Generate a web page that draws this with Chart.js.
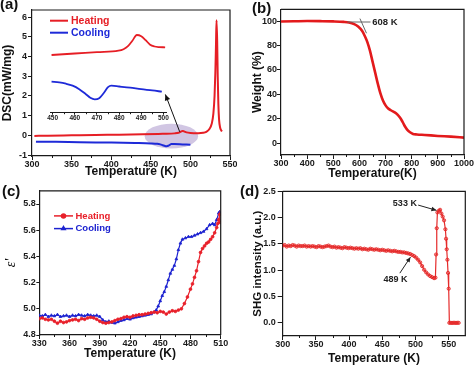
<!DOCTYPE html>
<html><head><meta charset="utf-8">
<script src="https://cdn.jsdelivr.net/npm/chart.js@4"></script>
<style>
html,body{margin:0;padding:0;background:#fff;}
body{width:474px;height:366px;overflow:hidden;position:relative;font-family:'Liberation Sans',Arial,sans-serif;}
canvas{position:absolute;}
</style></head><body>
<canvas id="ca" width="237" height="185" style="left:0;top:0"></canvas>
<canvas id="cai" width="140" height="99" style="left:40px;top:26px"></canvas>
<canvas id="cb" width="237" height="185" style="left:237px;top:0"></canvas>
<canvas id="cc" width="237" height="181" style="left:0;top:185px"></canvas>
<canvas id="cd" width="237" height="182" style="left:237px;top:184px"></canvas>
<script>
// ---------- data ----------
const seriesNames = ['Heating', 'Cooling'];
const panelNames = ['(a)', '(b)', '(c)', '(d)'];

// (a) DSC
const dscXTicks = [300,350,400,450,500,550];
const dscYTicks = [-1,0,1,2,3,4,5,6];
const dscHeatT = [303,320,350,380,410,440,465,480,485,488,490,492,495,500,510,516,520,524,527,529,530.5,531.5,532.3,533,533.8,534.5,535.3,536.2,537.5,539,540];
const dscHeatV = [-0.03,-0.02,0.0,0.02,0.03,0.05,0.08,0.10,0.13,0.19,0.22,0.20,0.15,0.12,0.11,0.13,0.18,0.32,0.60,1.10,2.00,3.20,4.60,5.85,4.80,3.00,1.60,0.80,0.40,0.25,0.20];
const dscCoolT = [305,330,360,400,430,450,458,462,465,468,470,472,474,476,480,490,500];
const dscCoolV = [-0.32,-0.33,-0.35,-0.37,-0.39,-0.41,-0.43,-0.46,-0.50,-0.54,-0.55,-0.53,-0.48,-0.44,-0.44,-0.46,-0.48];
// (a) inset (magnified, arbitrary units)
const insetXTicks = [450,460,470,480,490,500];
const insetHeatT = [449.5,460,470,479.7,482,484,486,488,490,492,494,496,498,500.8];
const insetHeatV = [57.7,59.2,60.6,62.0,63.5,66.5,72.0,77.7,76.5,72.5,68.0,66.2,65.6,65.4];
const insetCoolT = [449.5,453,456,459,462,465,467,469,471,473,475,476.5,480,485,490,495,499.3];
const insetCoolV = [31.0,30.3,29.0,27.0,23.5,18.5,15.0,13.4,14.5,19.5,25.5,27.0,26.2,25.0,23.5,22.3,21.0];

// (b) TGA
const tgaXTicks = [300,400,500,600,700,800,900,1000];
const tgaYTicks = [0,20,40,60,80,100];
const tgaT = [300,350,400,450,500,540,560,580,595,610,620,630,640,650,660,670,680,690,700,710,720,740,755,765,775,785,795,805,820,850,900,950,1000];
const tgaW = [99.6,99.8,100,99.9,99.7,99.3,98.8,97.5,95.5,92.0,88.0,83.0,76.0,67.0,58.0,49.0,41.0,35.0,31.0,28.5,27.0,24.5,21.0,17.5,13.5,10.5,8.8,7.6,7.2,6.8,6.0,5.4,4.6];

// (c) dielectric constant
const epsXTicks = [330,360,390,420,450,480,510];
const epsYTicks = [4.8,5.0,5.2,5.4,5.6,5.8];
const epsHeatT = [330,333,336,339,342,345,348,351,354,357,
 360,363,366,369,372,375,378,381,384,387,
 390,393,396,399,402,405,408,411,414,417,
 420,423,426,429,432,435,438,441,444,447,
 450,453,456,459,462,465,468,471,474,477,
 480,482,484,486,488,490,492,494,496,498,
 500,502,504,506,507,508,509,509.5];
const epsHeatV = [4.925,4.930,4.920,4.915,4.920,4.905,4.890,4.905,4.895,4.900,
 4.910,4.915,4.920,4.910,4.925,4.920,4.930,4.935,4.930,4.920,
 4.905,4.895,4.890,4.895,4.900,4.910,4.920,4.925,4.935,4.940,
 4.935,4.945,4.950,4.955,4.955,4.960,4.965,4.970,4.975,4.970,
 4.980,4.975,4.960,4.975,4.985,4.980,4.990,5.000,5.040,5.090,
 5.150,5.190,5.240,5.290,5.360,5.430,5.460,5.480,5.500,5.510,
 5.530,5.550,5.580,5.620,5.650,5.680,5.720,5.660];
const epsCoolT = [330,333,336,339,342,345,348,351,354,357,
 360,363,366,369,372,375,378,381,384,387,
 390,393,396,399,402,405,408,411,414,417,
 420,423,426,429,432,435,438,441,444,446,
 448,450,452,454,456,458,460,462,464,466,
 468,470,472,475,478,481,484,487,490,493,
 496,499,502,504,506,508,509];
const epsCoolV = [4.950,4.945,4.955,4.940,4.950,4.945,4.955,4.940,4.945,4.950,
 4.940,4.950,4.945,4.955,4.950,4.945,4.955,4.950,4.945,4.950,
 4.940,4.915,4.900,4.905,4.895,4.890,4.900,4.910,4.915,4.925,
 4.920,4.930,4.935,4.940,4.945,4.950,4.955,4.960,4.975,4.990,
 5.020,5.060,5.100,5.130,5.170,5.220,5.270,5.300,5.330,5.380,
 5.450,5.500,5.530,5.540,5.550,5.550,5.560,5.570,5.580,5.590,
 5.610,5.640,5.650,5.640,5.680,5.730,5.740];

// (d) SHG
const shgXTicks = [300,350,400,450,500,550];
const shgYTicks = [0.0,0.5,1.0,1.5,2.0,2.5];
const shgT = [300,303,306,309,312,315,318,321,324,327,
 330,333,336,339,342,345,348,351,354,357,
 360,363,366,369,372,375,378,381,384,387,
 390,393,396,399,402,405,408,411,414,417,
 420,423,426,429,432,435,438,441,444,447,
 450,453,456,459,462,465,468,471,474,477,
 480,483,486,489,492,495,498,501,504,507,
 510,513,516,519,522,525,528,530,531,532,
 533,535,537,539,541,543,545,546,547,548,
 549,550,551,553,555,557,559,561,563,565];
const shgV = [1.47,1.48,1.45,1.47,1.46,1.48,1.47,1.45,1.47,1.46,
 1.46,1.47,1.45,1.46,1.45,1.46,1.45,1.44,1.46,1.45,
 1.44,1.45,1.46,1.47,1.45,1.44,1.45,1.43,1.44,1.43,
 1.42,1.44,1.43,1.42,1.43,1.42,1.41,1.42,1.41,1.42,
 1.40,1.41,1.40,1.39,1.41,1.40,1.39,1.40,1.39,1.38,
 1.39,1.38,1.37,1.38,1.37,1.36,1.37,1.36,1.35,1.35,
 1.34,1.34,1.33,1.32,1.31,1.29,1.27,1.24,1.20,1.15,
 1.08,1.01,0.96,0.92,0.89,0.87,0.85,0.86,1.30,1.80,
 2.10,2.13,2.15,2.08,2.02,1.95,1.78,1.60,1.40,1.20,
 0.95,0.65,0.00,0.00,0.00,0.00,0.00,0.00,0.00,0.00];

// ---------- helpers ----------
const F = "'Liberation Sans', Arial, sans-serif";
const AX = '#1a1a1a';
const RED = '#e61e25', BLUE = '#1e2ad8';
const pts = (xs, ys) => xs.map((x, i) => ({x: x, y: ys[i]}));
const setTicks = list => (s => { s.ticks = list.map(v => ({value: v})); });

function xAxis(o) {
  return {
    type: 'linear', position: 'bottom', min: o.min, max: o.max,
    afterFit(s) { s.height = o.h; },
    afterBuildTicks: setTicks(o.ticks),
    ticks: {autoSkip: false, maxRotation: 0, minRotation: 0,
      padding: o.pad !== undefined ? o.pad : -1, color: '#1a1a1a',
      font: {family: F, size: o.fs || 9, weight: 'bold'},
      callback: o.fmt || (v => String(v))},
    grid: {display: true, drawOnChartArea: false, drawTicks: true, tickLength: o.tl || 4, tickColor: AX, tickWidth: 1},
    border: {display: true, color: AX, width: o.bw || 1.2},
    title: {display: !!o.title, text: o.title, color: '#111', font: {family: F, size: o.tfs || 12, weight: 'bold'},
      padding: {top: 0, bottom: o.tpb || 0}}
  };
}
function yAxis(o) {
  return {
    type: 'linear', position: 'left', min: o.min, max: o.max, display: o.display === undefined ? true : o.display,
    afterFit(s) { s.width = o.w; },
    afterBuildTicks: o.ticks ? setTicks(o.ticks) : undefined,
    ticks: {autoSkip: false,
      padding: o.pad || 0, color: '#1a1a1a',
      font: {family: F, size: o.fs || 9, weight: 'bold'},
      callback: o.fmt || (v => String(v))},
    grid: {display: true, drawOnChartArea: false, drawTicks: true, tickLength: o.tl || 4, tickColor: AX, tickWidth: 1},
    border: {display: true, color: AX, width: 1.2},
    title: {display: !!o.title, text: o.title, color: '#111',
      font: Object.assign({family: F, size: o.tfs || 12, weight: 'bold'}, o.tfont || {}),
      padding: {top: o.tpt || 0, bottom: 0}}
  };
}

const framePlugin = {
  id: 'frame',
  afterDraw(chart, args, o) {
    if (!o || !o.on) return;
    const a = chart.chartArea, c = chart.ctx;
    c.save(); c.strokeStyle = AX; c.lineWidth = 1.2;
    c.beginPath(); c.moveTo(a.left, a.top); c.lineTo(a.right, a.top); c.lineTo(a.right, a.bottom); c.stroke();
    c.restore();
  }
};
const minorPlugin = {
  id: 'minor',
  afterDraw(chart, args, o) {
    if (!o || !o.axes) return;
    const c = chart.ctx; c.save(); c.strokeStyle = AX; c.lineWidth = 1;
    const len = o.len || 2;
    for (const id of o.axes) {
      const s = chart.scales[id]; if (!s) continue;
      const t = s.ticks.map(k => k.value);
      for (let i = 0; i < t.length - 1; i++) {
        const p = Math.round(s.getPixelForValue((t[i] + t[i + 1]) / 2)) + 0.5;
        c.beginPath();
        if (s.isHorizontal()) { c.moveTo(p, s.top); c.lineTo(p, s.top + len); }
        else { c.moveTo(s.right, p); c.lineTo(s.right - len, p); }
        c.stroke();
      }
    }
    c.restore();
  }
};
// panel letter, drawn as text on the panel's own canvas
const panelPlugin = {
  id: 'panel',
  afterDraw(chart, args, o) {
    if (!o || !o.text) return;
    const c = chart.ctx; c.save();
    c.fillStyle = '#111'; c.font = "bold 15px " + F; c.textAlign = 'left'; c.textBaseline = 'middle';
    c.fillText(o.text, o.x, o.y);
    c.restore();
  }
};
function drawAnno(chart, o, layer) {
  const items = (o && o.items) || [];
  const c = chart.ctx, xs = chart.scales.x, ys = chart.scales.y;
  c.save();
  for (const it of items) {
    if ((it.layer || 'above') !== layer) continue;
    if (it.type === 'ellipse') {
      const cx = xs.getPixelForValue(it.x), cy = ys.getPixelForValue(it.y);
      const rx = Math.abs(xs.getPixelForValue(it.x + it.rx) - cx), ry = Math.abs(ys.getPixelForValue(it.y + it.ry) - cy);
      c.fillStyle = it.color; c.beginPath(); c.ellipse(cx, cy, rx, ry, it.rot || 0, 0, Math.PI * 2); c.fill();
    } else if (it.type === 'line') {
      const x1 = xs.getPixelForValue(it.x1), y1 = ys.getPixelForValue(it.y1);
      const x2 = xs.getPixelForValue(it.x2), y2 = ys.getPixelForValue(it.y2);
      c.strokeStyle = it.color; c.lineWidth = it.width || 1;
      c.beginPath(); c.moveTo(x1, y1); c.lineTo(x2, y2); c.stroke();
      if (it.arrow) {
        const a = Math.atan2(y2 - y1, x2 - x1), L = it.head || 5, W = it.headW || 2.3;
        c.fillStyle = it.color; c.beginPath(); c.moveTo(x2, y2);
        c.lineTo(x2 - L * Math.cos(a) + W * Math.sin(a), y2 - L * Math.sin(a) - W * Math.cos(a));
        c.lineTo(x2 - L * Math.cos(a) - W * Math.sin(a), y2 - L * Math.sin(a) + W * Math.cos(a));
        c.closePath(); c.fill();
      }
    } else if (it.type === 'text') {
      c.fillStyle = it.color; c.font = it.font; c.textAlign = it.align || 'center'; c.textBaseline = 'middle';
      c.fillText(it.text, xs.getPixelForValue(it.x), ys.getPixelForValue(it.y));
    }
  }
  c.restore();
}
const annoPlugin = {
  id: 'anno',
  beforeDatasetsDraw(chart, args, o) { drawAnno(chart, o, 'below'); },
  afterDatasetsDraw(chart, args, o) { drawAnno(chart, o, 'above'); }
};
const legPlugin = {
  id: 'leg',
  afterDatasetsDraw(chart, args, o) {
    if (!o || !o.items) return;
    const c = chart.ctx, a = chart.chartArea;
    c.save();
    o.items.forEach((di, i) => {
      const ds = chart.data.datasets[di];
      const y = a.top + o.dy + i * o.gap, x0 = a.left + o.dx;
      c.strokeStyle = ds.borderColor; c.lineWidth = o.lw || 2;
      c.beginPath(); c.moveTo(x0, y); c.lineTo(x0 + o.len, y); c.stroke();
      if (o.marker) {
        c.fillStyle = ds.borderColor;
        Chart.helpers.drawPoint(c, {pointStyle: ds.pointStyle || 'circle', radius: 2, rotation: 0, borderWidth: 1}, x0 + o.len / 2, y);
      }
      c.fillStyle = ds.borderColor; c.font = o.font; c.textAlign = 'left'; c.textBaseline = 'middle';
      c.fillText(ds.label, x0 + o.len + o.sp, y);
    });
    c.restore();
  }
};
Chart.register(framePlugin, minorPlugin, annoPlugin, legPlugin, panelPlugin);

function baseOpts(o) {
  return {
    responsive: false, animation: false, events: [],
    layout: {padding: o.padding},
    plugins: Object.assign({legend: {display: false}, tooltip: {enabled: false},
      frame: {on: o.frame !== false}, minor: {axes: o.minor || ['x'], len: o.minorLen || 2}}, o.plugins || {}),
    scales: {x: o.x, y: o.y}
  };
}

// ---------- (a) DSC ----------
new Chart(document.getElementById('ca'), {
  type: 'line',
  data: {datasets: [
    {label: seriesNames[0], data: pts(dscHeatT, dscHeatV), borderColor: RED, borderWidth: 2, pointRadius: 0, cubicInterpolationMode: 'monotone'},
    {label: seriesNames[1], data: pts(dscCoolT, dscCoolV), borderColor: BLUE, borderWidth: 2, pointRadius: 0, cubicInterpolationMode: 'monotone'}
  ]},
  options: baseOpts({
    padding: {left: 0, top: 10, right: 7, bottom: 0},
    x: xAxis({min: 300, max: 550, ticks: dscXTicks, h: 29, title: 'Temperature (K)', tpb: 6}),
    y: yAxis({min: -1.05, max: 6.37, ticks: dscYTicks, w: 32, pad: 1, title: 'DSC(mW/mg)', tpt: 0.6}),
    plugins: {
      panel: {text: panelNames[0], x: 0, y: 4.5},
      anno: {items: [
        {type: 'ellipse', layer: 'below', x: 476, y: -0.04, rx: 33.7, ry: 0.63, color: 'rgba(178,160,208,0.6)'},
        {type: 'line', x1: 486.5, y1: 0.18, x2: 468.4, y2: 2.08, color: '#111', width: 1, arrow: true, head: 6, headW: 2.8}
      ]},
      leg: {items: [0, 1], dx: 18, dy: 10.7, gap: 12, len: 18, sp: 3, lw: 2, font: "bold 10.5px " + F}
    }
  })
});

// (a) inset
new Chart(document.getElementById('cai'), {
  type: 'line',
  data: {datasets: [
    {label: seriesNames[0], data: pts(insetHeatT, insetHeatV), borderColor: RED, borderWidth: 1.8, pointRadius: 0, cubicInterpolationMode: 'monotone'},
    {label: seriesNames[1], data: pts(insetCoolT, insetCoolV), borderColor: BLUE, borderWidth: 1.8, pointRadius: 0, cubicInterpolationMode: 'monotone'}
  ]},
  options: baseOpts({
    frame: false, minorLen: 1.5,
    padding: {left: 10, top: 4, right: 13.3, bottom: 0},
    x: xAxis({min: 448.8, max: 501.5, ticks: insetXTicks, h: 12.3, fs: 6.5, tl: 2, pad: 0, bw: 1}),
    y: yAxis({min: 0, max: 82.7, w: 0, display: false})
  })
});

// ---------- (b) TGA ----------
const tgaDarkT = tgaT.filter(t => t >= 610 && t <= 690);
const tgaDarkW = tgaW.filter((w, i) => tgaT[i] >= 610 && tgaT[i] <= 690);
new Chart(document.getElementById('cb'), {
  type: 'line',
  data: {datasets: [
    {label: 'Weight', data: pts(tgaT, tgaW), borderColor: '#e31a1c', borderWidth: 2.6, pointRadius: 0, cubicInterpolationMode: 'monotone'},
    {label: 'Weight (overlay)', data: pts(tgaDarkT, tgaDarkW), borderColor: 'rgba(40,0,0,0.55)', borderWidth: 1.2, pointRadius: 0, cubicInterpolationMode: 'monotone'}
  ]},
  options: baseOpts({
    padding: {left: 0, top: 9.3, right: 10, bottom: 0},
    x: xAxis({min: 300, max: 1000, ticks: tgaXTicks, h: 30, title: 'Temperature(K)', tpb: 4.5}),
    y: yAxis({min: -9.6, max: 109.6, ticks: tgaYTicks, w: 44, pad: 0, title: 'Weight (%)', tpt: 13.3}),
    plugins: {
      panel: {text: panelNames[1], x: 15, y: 8.5},
      anno: {items: [
        {type: 'line', x1: 553.7, y1: 99.2, x2: 642.4, y2: 99.2, color: '#666', width: 1},
        {type: 'line', x1: 602, y1: 102, x2: 627, y2: 90, color: '#666', width: 1},
        {type: 'text', text: '608 K', x: 648.8, y: 99.2, align: 'left', color: '#222', font: "bold 9.5px " + F}
      ]}
    }
  })
});

// ---------- (c) dielectric ----------
new Chart(document.getElementById('cc'), {
  type: 'line',
  data: {datasets: [
    {label: seriesNames[0], data: pts(epsHeatT, epsHeatV), borderColor: '#e8202a', backgroundColor: '#e8202a', borderWidth: 1.2,
      pointRadius: 1.4, pointStyle: 'circle', pointBorderWidth: 0.8},
    {label: seriesNames[1], data: pts(epsCoolT, epsCoolV), borderColor: '#1c22d0', backgroundColor: '#1c22d0', borderWidth: 1.2,
      pointRadius: 1.6, pointStyle: 'triangle', pointBorderWidth: 0.8}
  ]},
  options: baseOpts({
    padding: {left: 0, top: 5, right: 16.3, bottom: 0},
    x: xAxis({min: 330, max: 510, ticks: epsXTicks, h: 31, title: 'Temperature (K)', tpb: 5.5}),
    y: yAxis({min: 4.8, max: 5.9, ticks: epsYTicks, w: 39.3, tl: 3, pad: 0.5, title: "\u03B5'", tfs: 14,
      tfont: {family: "'Liberation Serif', 'Times New Roman', serif", style: 'italic', weight: 'normal'}, tpt: 2.5,
      fmt: v => v.toFixed(1)}),
    plugins: {
      panel: {text: panelNames[2], x: 2, y: 6.5},
      leg: {items: [0, 1], dx: 14.7, dy: 25, gap: 12.7, len: 19, sp: 2.5, lw: 1.5, marker: true, font: "bold 9.5px " + F}
    }
  })
});

// ---------- (d) SHG ----------
new Chart(document.getElementById('cd'), {
  type: 'line',
  data: {datasets: [
    {label: 'SHG intensity', data: pts(shgT, shgV), borderColor: '#e52a2a', backgroundColor: 'rgba(229,42,42,0.35)', borderWidth: 1.2,
      pointRadius: 1.6, pointStyle: 'circle', pointBorderWidth: 0.9}
  ]},
  options: baseOpts({
    padding: {left: 0, top: 6, right: 8.7, bottom: 0},
    x: xAxis({min: 300, max: 575, ticks: shgXTicks, h: 30, title: 'Temperature (K)', tpb: 0.5}),
    y: yAxis({min: -0.25, max: 2.5, ticks: shgYTicks, w: 45.7, tl: 5, pad: 2, title: 'SHG intensity (a.u.)', tfs: 11.5, tpt: 14.4,
      fmt: v => v.toFixed(1)}),
    plugins: {
      panel: {text: panelNames[3], x: 3, y: 7.5},
      anno: {items: [
        {type: 'text', text: '533 K', x: 484, y: 2.27, color: '#222', font: "bold 9px " + F},
        {type: 'line', x1: 504, y1: 2.24, x2: 531.5, y2: 2.14, color: '#222', width: 1, arrow: true},
        {type: 'text', text: '489 K', x: 470, y: 0.82, color: '#222', font: "bold 9px " + F},
        {type: 'line', x1: 476.4, y1: 0.945, x2: 492.4, y2: 1.25, color: '#222', width: 1, arrow: true}
      ]}
    }
  })
});
</script>
</body></html>
